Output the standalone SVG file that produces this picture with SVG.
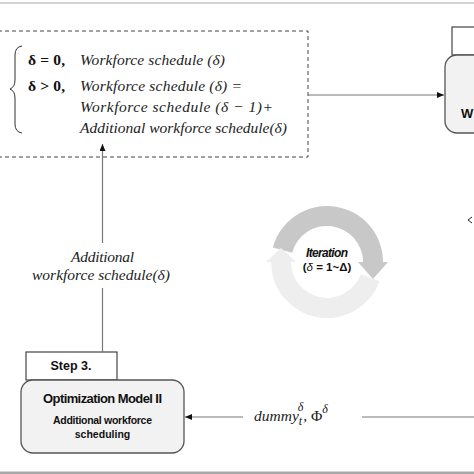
<svg xmlns="http://www.w3.org/2000/svg" width="474" height="474" viewBox="0 0 474 474">
<style>
.math{font-family:"Liberation Serif","DejaVu Serif",serif;font-style:italic;font-size:15.5px;fill:#222}
.mb{font-family:"Liberation Serif","DejaVu Serif",serif;font-weight:bold;font-size:15.5px;fill:#111}
.sans{font-family:"Liberation Sans",Arial,sans-serif;font-weight:bold;fill:#111}
.box{fill:#f2f2f2;stroke:#555;stroke-width:1.3}
.tab{fill:#fff;stroke:#444;stroke-width:1.2}
.conn{stroke:#777;stroke-width:1.2;fill:none}
</style>
<defs>
<marker id="ah" markerWidth="7" markerHeight="6" refX="7" refY="3" orient="auto" markerUnits="userSpaceOnUse">
<path d="M0,0 L7,3 L0,6 Z" fill="#111"/>
</marker>
</defs>
<rect width="474" height="474" fill="#fff"/>
<line x1="0" y1="3" x2="474" y2="3" stroke="#aaa" stroke-width="1.2"/>
<rect x="0" y="471.5" width="474" height="2.5" fill="#a8a8a8"/>

<g id="formula-box">
<rect x="-2" y="31" width="310" height="126" fill="none" stroke="#444" stroke-width="1" stroke-dasharray="4 3"/>
<path d="M22,46 Q15,47 15,55 L15,80 Q15,87 10,89 Q15,91 15,98 L15,124 Q15,132 22,133" fill="none" stroke="#333" stroke-width="1"/>
<text class="mb" x="28" y="65" textLength="37">δ = 0,</text>
<text class="math" x="80" y="65" textLength="145">Workforce schedule (δ)</text>
<text class="mb" x="28" y="91" textLength="37">δ &gt; 0,</text>
<text class="math" x="80" y="91" textLength="162">Workforce schedule (δ) =</text>
<text class="math" x="80" y="112" textLength="193">Workforce schedule (δ − 1)+</text>
<text class="math" x="80" y="133" textLength="207">Additional workforce schedule(δ)</text>
</g>

<g id="step-right">
<rect class="tab" x="452" y="27" width="40" height="28"/>
<rect class="box" x="445" y="55" width="60" height="78" rx="12"/>
<text class="sans" x="461" y="118" font-size="13">W</text>
</g>

<g id="step3">
<rect class="tab" x="26" y="352" width="91" height="28"/>
<text class="sans" x="71" y="370" font-size="12.5" text-anchor="middle">Step 3.</text>
<rect class="box" x="21" y="380" width="163" height="73" rx="12"/>
<text class="sans" x="102.5" y="403" font-size="13" text-anchor="middle" textLength="119">Optimization Model II</text>
<text class="sans" x="102.5" y="424" font-size="10.5" text-anchor="middle" textLength="99">Additional  workforce</text>
<text class="sans" x="102.5" y="438" font-size="10.5" text-anchor="middle">scheduling</text>
</g>

<g id="iteration">
<path d="M292.2,252.7 L272.9,247.5 A56 56 0 0 1 383,262 L388,262 L373,279 L358,262 L363,262 A36 36 0 0 0 292.2,252.7 Z" fill="#c8c8c8"/>
<path d="M360.8,274.3 L379.6,281.2 A56 56 0 0 1 271,262 L266,262 L281,248 L296,262 L291,262 A36 36 0 0 0 360.8,274.3 Z" fill="#eeeeee"/>
<text class="sans" x="327" y="257" font-size="12" font-style="italic" text-anchor="middle" textLength="42">Iteration</text>
<text class="sans" x="327" y="271" font-size="11.5" text-anchor="middle">(<tspan font-style="italic" font-weight="normal">δ</tspan> = 1~Δ)</text>
</g>

<g id="connectors">
<line class="conn" x1="308" y1="95" x2="444" y2="95" marker-end="url(#ah)"/>
<line class="conn" x1="102.5" y1="243" x2="102.5" y2="144" marker-end="url(#ah)"/>
<line class="conn" x1="102.5" y1="352" x2="102.5" y2="288"/>
<line class="conn" x1="243" y1="417" x2="185" y2="417" marker-end="url(#ah)"/>
<line class="conn" x1="362" y1="417" x2="474" y2="417"/>
<path d="M472,217 L468,220 L472,223" fill="none" stroke="#222" stroke-width="1"/>
<text class="math" x="102.5" y="262" text-anchor="middle" font-size="14.5" textLength="63">Additional</text>
<text class="math" x="101" y="280" text-anchor="middle" font-size="14.5" textLength="138">workforce schedule(δ)</text>
<text class="math" x="254" y="421" font-size="17.5">dummy<tspan font-size="12" dy="4">t</tspan><tspan font-size="12" dx="-4.5" dy="-14">δ</tspan><tspan dy="10">, </tspan><tspan font-style="normal">Φ</tspan><tspan font-size="12" dy="-8">δ</tspan></text>
</g>
</svg>
